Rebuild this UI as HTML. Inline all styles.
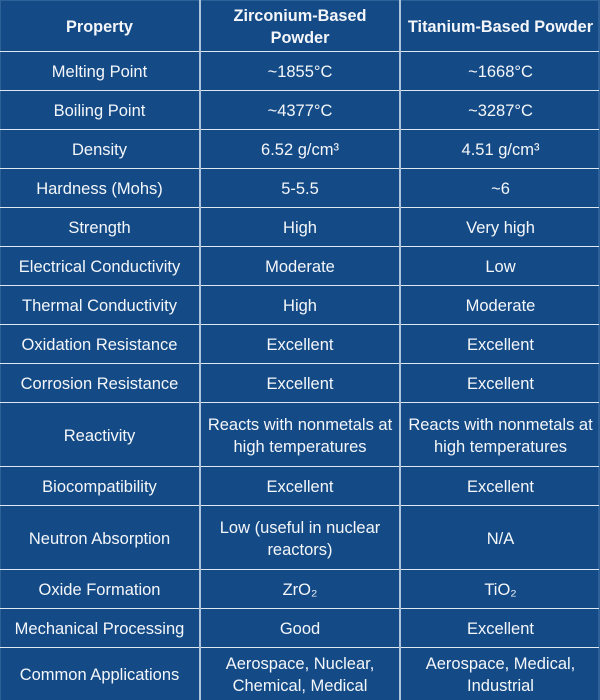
<!DOCTYPE html>
<html>
<head>
<meta charset="utf-8">
<style>
html,body{margin:0;padding:0;}
body{width:600px;height:700px;overflow:hidden;background:#144b87;position:relative;font-family:"Liberation Sans","DejaVu Sans",sans-serif;color:#f4f6f9;}
.row{position:absolute;left:0;width:600px;}
.c{position:absolute;top:0;bottom:0;display:flex;align-items:center;justify-content:center;text-align:center;font-size:16.5px;line-height:22px;padding-top:3px;box-sizing:border-box;}
.c1{left:0;width:199px;}
.c2{left:201px;width:198px;}
.c3{left:401px;width:199px;}
.h .c{font-weight:bold;font-size:16.3px;padding-top:2px;}
.hl{position:absolute;left:0;width:599px;height:1px;background:#dfe7f1;}
.vl{position:absolute;top:0;width:2px;height:700px;background:#adc3dd;}
.edge{position:absolute;background:#2f6199;}
</style>
</head>
<body>
<div class="edge" style="left:0;top:0;width:1px;height:700px;"></div>
<div class="edge" style="left:0;top:0;width:600px;height:1px;"></div>
<div class="edge" style="left:598px;top:0;width:2px;height:700px;"></div>

<div class="row h" style="top:0;height:51px;"><div class="c c1">Property</div><div class="c c2">Zirconium-Based<br>Powder</div><div class="c c3">Titanium-Based Powder</div></div>
<div class="row" style="top:51px;height:39px;"><div class="c c1">Melting Point</div><div class="c c2">~1855°C</div><div class="c c3">~1668°C</div></div>
<div class="row" style="top:90px;height:39px;"><div class="c c1">Boiling Point</div><div class="c c2">~4377°C</div><div class="c c3">~3287°C</div></div>
<div class="row" style="top:129px;height:39px;"><div class="c c1">Density</div><div class="c c2">6.52 g/cm³</div><div class="c c3">4.51 g/cm³</div></div>
<div class="row" style="top:168px;height:39px;"><div class="c c1">Hardness (Mohs)</div><div class="c c2">5-5.5</div><div class="c c3">~6</div></div>
<div class="row" style="top:207px;height:39px;"><div class="c c1">Strength</div><div class="c c2">High</div><div class="c c3">Very high</div></div>
<div class="row" style="top:246px;height:39px;"><div class="c c1">Electrical Conductivity</div><div class="c c2">Moderate</div><div class="c c3">Low</div></div>
<div class="row" style="top:285px;height:39px;"><div class="c c1">Thermal Conductivity</div><div class="c c2">High</div><div class="c c3">Moderate</div></div>
<div class="row" style="top:324px;height:39px;"><div class="c c1">Oxidation Resistance</div><div class="c c2">Excellent</div><div class="c c3">Excellent</div></div>
<div class="row" style="top:363px;height:39px;"><div class="c c1">Corrosion Resistance</div><div class="c c2">Excellent</div><div class="c c3">Excellent</div></div>
<div class="row" style="top:402px;height:64px;"><div class="c c1">Reactivity</div><div class="c c2">Reacts with nonmetals at<br>high temperatures</div><div class="c c3">Reacts with nonmetals at<br>high temperatures</div></div>
<div class="row" style="top:466px;height:39px;"><div class="c c1">Biocompatibility</div><div class="c c2">Excellent</div><div class="c c3">Excellent</div></div>
<div class="row" style="top:505px;height:64px;"><div class="c c1">Neutron Absorption</div><div class="c c2">Low (useful in nuclear<br>reactors)</div><div class="c c3">N/A</div></div>
<div class="row" style="top:569px;height:39px;"><div class="c c1">Oxide Formation</div><div class="c c2">ZrO₂</div><div class="c c3">TiO₂</div></div>
<div class="row" style="top:608px;height:39px;"><div class="c c1">Mechanical Processing</div><div class="c c2">Good</div><div class="c c3">Excellent</div></div>
<div class="row" style="top:647px;height:53px;"><div class="c c1">Common Applications</div><div class="c c2">Aerospace, Nuclear,<br>Chemical, Medical</div><div class="c c3">Aerospace, Medical,<br>Industrial</div></div>

<div class="hl" style="top:51px;"></div>
<div class="hl" style="top:90px;"></div>
<div class="hl" style="top:129px;"></div>
<div class="hl" style="top:168px;"></div>
<div class="hl" style="top:207px;"></div>
<div class="hl" style="top:246px;"></div>
<div class="hl" style="top:285px;"></div>
<div class="hl" style="top:324px;"></div>
<div class="hl" style="top:363px;"></div>
<div class="hl" style="top:402px;"></div>
<div class="hl" style="top:466px;"></div>
<div class="hl" style="top:505px;"></div>
<div class="hl" style="top:569px;"></div>
<div class="hl" style="top:608px;"></div>
<div class="hl" style="top:647px;"></div>

<div class="vl" style="left:199px;"></div>
<div class="vl" style="left:399px;"></div>
</body>
</html>
